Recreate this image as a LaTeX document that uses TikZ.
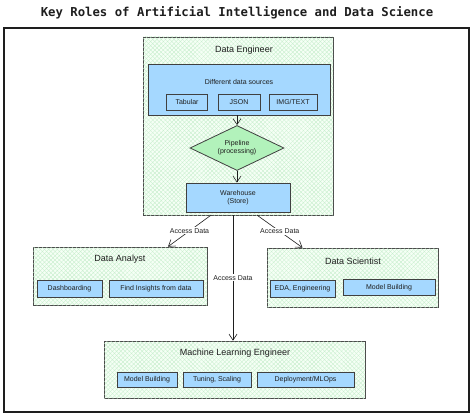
\documentclass[tikz,border=0pt]{standalone}
\usepackage{fontspec}
\setmainfont{Liberation Sans}
\newfontfamily\titlefont{DejaVu Sans Mono}
\usetikzlibrary{shapes.geometric,arrows.meta,patterns.meta}
\definecolor{ink}{HTML}{1E1E1E}
\definecolor{skyfill}{HTML}{A5D8FF}
\definecolor{mintfill}{HTML}{B2F2BB}
\definecolor{mintline}{HTML}{C4EDCA}

\begin{document}
\begin{tikzpicture}[x=1pt,y=-1pt,
    every node/.style={text=ink,inner sep=0pt,align=center},
    rolebox/.style={draw=ink!80,line width=0.7pt,
      preaction={fill=green!4},
      pattern={Lines[angle=45,distance=3pt,line width=0.3pt]},pattern color=mintline,
      postaction={pattern={Lines[angle=-45,distance=3pt,line width=0.3pt]},pattern color=mintline}},
    itembox/.style={draw=ink!85,line width=0.8pt,fill=skyfill,font=\fontsize{7}{8}\selectfont},
    roletitle/.style={font=\fontsize{9}{10}\selectfont},
    lbl/.style={fill=white,inner sep=1pt,font=\fontsize{7}{8}\selectfont},
    link/.style={draw=ink,line width=0.6pt,-{Straight Barb[length=6pt,width=8pt]}}]
  \useasboundingbox (0,0) rectangle (474,417);
  \node[font=\titlefont\bfseries\fontsize{12.3}{14}\selectfont] (title) at (237,13) {Key Roles of Artificial Intelligence and Data Science};
  \draw[ink,line width=1.4pt] (4,28) rectangle (469,412);

  \node[rolebox,minimum width=190pt,minimum height=178pt] (de) at (238,126) {};
  \node[roletitle] (detitle) at (244,50) {Data Engineer};
  \node[itembox,minimum width=182pt,minimum height=51pt] (src) at (239,89.5) {};
  \node[font=\fontsize{7}{8}\selectfont] (srctitle) at (239,82) {Different data sources};
  \node[itembox,minimum width=41pt,minimum height=16pt] (tab) at (187,102) {Tabular};
  \node[itembox,minimum width=42pt,minimum height=16pt] (json) at (239,102) {JSON};
  \node[itembox,minimum width=48pt,minimum height=16pt] (img) at (293,102) {IMG/TEXT};
  \node[diamond,aspect=2.1,draw=ink!85,line width=0.8pt,fill=mintfill,minimum width=94pt,minimum height=45pt,
        font=\fontsize{7}{8}\selectfont] (pipe) at (237,148) {Pipeline\\(processing)};
  \node[itembox,minimum width=104pt,minimum height=29pt] (wh) at (238,197.5) {Warehouse\\(Store)};

  \node[rolebox,minimum width=174pt,minimum height=58pt] (da) at (120,276) {};
  \node[roletitle] (datitle) at (120,259) {Data Analyst};
  \node[itembox,minimum width=65pt,minimum height=17pt] (dash) at (69.5,288.5) {Dashboarding};
  \node[itembox,minimum width=94pt,minimum height=17pt] (ins) at (156,288.5) {Find Insights from data};

  \node[rolebox,minimum width=171pt,minimum height=59pt] (ds) at (352.5,277.5) {};
  \node[roletitle] (dstitle) at (353,261) {Data Scientist};
  \node[itembox,minimum width=65pt,minimum height=17pt] (eda) at (302.5,288.5) {EDA, Engineering};
  \node[itembox,minimum width=92pt,minimum height=16pt] (mb) at (389,287.5) {Model Building};

  \node[rolebox,minimum width=261pt,minimum height=57pt] (mle) at (234.5,369.5) {};
  \node[roletitle] (mletitle) at (235,353) {Machine Learning Engineer};
  \node[itembox,minimum width=60pt,minimum height=15pt] (mlmb) at (147,380) {Model Building};
  \node[itembox,minimum width=68pt,minimum height=15pt] (tune) at (217,380) {Tuning, Scaling};
  \node[itembox,minimum width=97pt,minimum height=15pt] (dep) at (305.5,380) {Deployment/MLOps};

  \draw[link] (src.south -| pipe.north) -- (pipe.north);
  \draw[link] (pipe.south) -- (pipe.south |- wh.north);
  \draw[link] ([xshift=-27pt]de.south) -- node[lbl] (acc1) {Access Data} ([xshift=48pt]da.north);
  \draw[link] ([xshift=19pt]de.south) -- node[lbl] (acc2) {Access Data} ([xshift=-50pt]ds.north);
  \draw[link] ([xshift=-5pt]de.south) -- node[lbl] (acc3) {Access Data} ([xshift=-1.5pt]mle.north);
\end{tikzpicture}
\end{document}
